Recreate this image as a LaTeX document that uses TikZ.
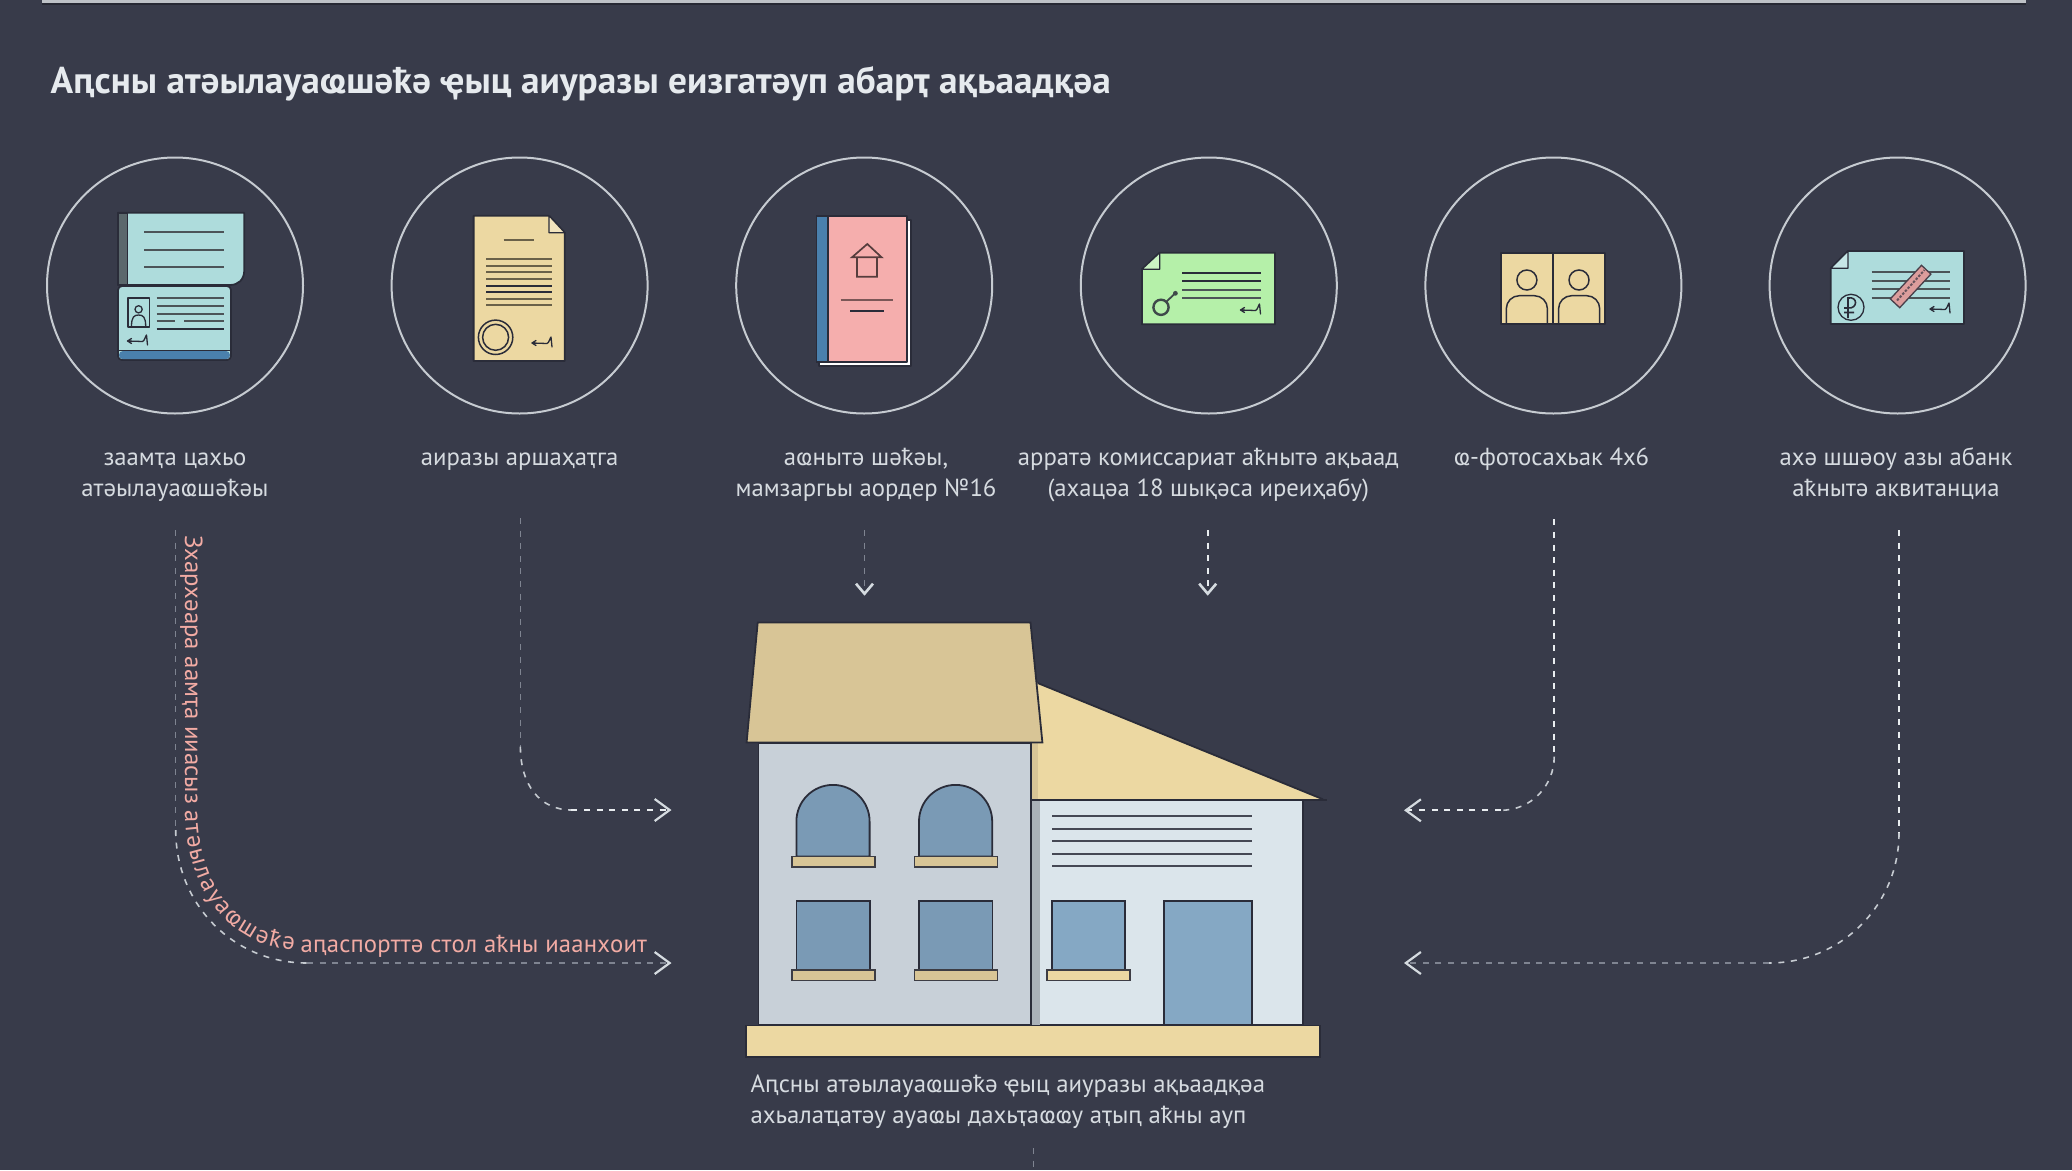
\documentclass[tikz,border=0pt]{standalone}
\usepackage{fontspec}
\setmainfont{PT Sans}
\usetikzlibrary{arrows.meta,decorations.text}
\definecolor{bgc}{HTML}{383B4A}
\definecolor{ink}{HTML}{2A2C39}
\definecolor{lineink}{HTML}{4C5458}
\definecolor{txt}{HTML}{D6DBE0}
\definecolor{titlec}{HTML}{E6EAEE}
\definecolor{pinkt}{HTML}{F2ABA4}
\definecolor{aqua}{HTML}{AEDCDC}
\definecolor{sand}{HTML}{ECD8A2}
\definecolor{sandd}{HTML}{D8C596}
\definecolor{rose}{HTML}{F5AEAD}
\definecolor{mint}{HTML}{B5F0A9}
\definecolor{steel}{HTML}{4A80AD}
\definecolor{wallL}{HTML}{C8D0D8}
\definecolor{wallR}{HTML}{DBE5EB}
\definecolor{glassL}{HTML}{7A9AB5}
\definecolor{glassR}{HTML}{85A8C4}
\definecolor{dimd}{HTML}{7F8491}
\definecolor{midd}{HTML}{C6CBD1}
\definecolor{brightd}{HTML}{E9EDF0}
\definecolor{headc}{HTML}{D5DBE0}
\definecolor{barc}{HTML}{BEC2C7}
\newcommand{\lh}{\rule{0pt}{22pt}}
\tikzset{
  ring/.style={circle,draw=midd,line width=2pt,minimum size=256pt,inner sep=0pt},
  lab/.style={font=\fontsize{24.7}{31}\selectfont,text=txt,align=center,anchor=north,inner sep=0pt},
  ico/.style={draw=ink,line width=1.8pt,line join=round},
  rule/.style={draw=lineink,line width=2pt},
  rulek/.style={draw=ink,line width=1.9pt},
  thin ink/.style={draw=ink,line width=1.3pt,line cap=round,line join=round},
  dim/.style={draw=dimd,line width=1.3pt,dash pattern=on 6pt off 6.6pt},
  mid/.style={draw=midd,line width=1.6pt,dash pattern=on 6pt off 6.6pt},
  bright/.style={draw=brightd,line width=1.7pt,dash pattern=on 6pt off 6.6pt},
  tip/.style={-{Straight Barb[length=15pt,width=22pt,line width=2.2pt,color=headc]}},
  tipd/.style={-{Straight Barb[length=10pt,width=17pt,line width=2.6pt,color=headc]}},
  house/.style={draw=ink,line width=1.8pt,line join=miter},
  sill/.style={draw=ink!90!sand,line width=1.7pt,fill=sandd},
}
\newcommand{\sigmark}[2]{%
  \draw[thin ink,shift={(#1,#2)}] (0,0) -- (15,0.5) .. controls (17,0) and (18,-5) .. (19,-6) (19,-6) -- (20,4) (0,0) -- (4,-2.5) (0,0) -- (4,2.5);}
\begin{document}
\begin{tikzpicture}[x=1pt,y=-1pt]
\useasboundingbox (0,0) rectangle (2072,1170);
\fill[bgc] (0,0) rectangle (2072,1170);
\fill[black!30!bgc] (42,3) rectangle (2026,5);
\fill[barc] (42,0) rectangle (2026,3);

% title
\node[anchor=base west,inner sep=0pt,font=\fontsize{37.3}{40}\selectfont\bfseries,text=titlec] (title) at (50.5,93) {Аԥсны атәылауаҩшәҟә ҿыц аиуразы еизгатәуп абарҭ ақьаадқәа};

% rings
\node[ring] (c1) at (175,285.5) {};
\node[ring] (c2) at (519.6,285.5) {};
\node[ring] (c3) at (864.2,285.5) {};
\node[ring] (c4) at (1208.8,285.5) {};
\node[ring] (c5) at (1553.4,285.5) {};
\node[ring] (c6) at (1897.6,285.5) {};

% labels
\node[lab] (l1) at (175,443) {\lh заамҭа цахьо\\атәылауаҩшәҟәы};
\node[lab] (l2) at (519.6,443) {\lh аиразы аршаҳаҭга};
\node[lab] (l3) at (866,443) {\lh аҩнытә шәҟәы,\\мамзаргьы аордер №16};
\node[lab] (l4) at (1208.3,443) {\lh арратә комиссариат аҟнытә ақьаад\\(ахацәа 18 шықәса иреиҳабу)};
\node[lab] (l5) at (1551.5,443) {\lh ҩ-фотосахьак 4х6};
\node[lab] (l6) at (1896,443) {\lh ахә шшәоу азы абанк\\аҟнытә аквитанциа};

% icon 1: passport
\filldraw[ico,fill=aqua] (118,212.7) -- (244.3,212.7) -- (244.3,270) .. controls (244.3,280) and (238,285) .. (230,285) -- (118,285) -- cycle;
\filldraw[ico,fill=lineink!85!aqua] (118,212.7) rectangle (127.4,285);
\draw[rule] (144,231.7) -- (224,231.7) (144,249.7) -- (224,249.7) (144,267.3) -- (224,267.3);
\filldraw[ico,fill=aqua,rounded corners=4pt] (118,286) -- (231,286) -- (231,360) -- (118,360) -- cycle;
\fill[steel,rounded corners=4pt] (119,351) -- (230,351) -- (230,359.2) -- (119,359.2) -- cycle;
\draw[ink,line width=1.2pt] (118.5,350.7) -- (230.5,350.7);
\draw[thin ink,line width=1.8pt] (127.8,298) rectangle (149.4,327.3);
\draw[thin ink] (138.6,309.3) circle (3.6);
\draw[thin ink] (131.5,326.5) .. controls (131.5,317) and (134,315) .. (138.6,315) .. controls (143.2,315) and (145.7,317) .. (145.7,326.5);
\draw[rule] (156.5,298.3) -- (224,298.3) (156.5,306.3) -- (224,306.3) (156.5,313.7) -- (224,313.7) (156.5,321.3) -- (175,321.3) (184,321.3) -- (224,321.3);
\draw[rulek,line width=1.8pt] (156.5,329.3) -- (224,329.3);
\sigmark{127.5}{341}

% icon 2: certificate
\filldraw[ico,fill=sand] (473.6,215.7) -- (549,215.7) -- (564.8,232.7) -- (564.8,361) -- (473.6,361) -- cycle;
\filldraw[ico,line width=1.2pt,fill=sand!70!white] (549,215.7) -- (564.8,232.7) -- (549,232.7) -- cycle;
\draw[draw=black!55!sand,line width=1.8pt] (503.5,240) -- (533.7,240);
\foreach \yy in {259,266,272.3,279,298.7,305.3} \draw[draw=black!55!sand,line width=2.2pt] (486,\yy) -- (551.6,\yy);
\foreach \yy in {285.7,292} \draw[rulek] (486,\yy) -- (551.6,\yy);
\draw[ink,line width=1.5pt] (495.6,337.3) circle (17.2);
\draw[ink,line width=1.5pt] (495.6,337.3) circle (13);
\sigmark{532}{343}

% icon 3: house book
\filldraw[ico,fill=white] (819,220) -- (911,220) -- (911,366) -- (819,366) -- cycle;
\filldraw[ico,fill=rose] (816.4,215.7) rectangle (906.6,361.7);
\filldraw[ico,fill=steel] (816.4,215.7) rectangle (827.6,361.7);
\draw[thin ink,draw=black!65!rose,line width=1.7pt,line join=miter] (852,257.3) -- (867.3,244) -- (881.6,257.3) -- cycle (857,257.3) rectangle (877,276.7);
\draw[draw=black!50!rose,line width=2pt] (840.5,300.3) -- (893,300.3);
\draw[rulek] (850,310.7) -- (884,310.7);

% icon 4: military paper
\filldraw[ico,fill=mint] (1159.7,252.7) -- (1274.9,252.7) -- (1274.9,324.3) -- (1141.9,324.3) -- (1141.9,269.3) -- cycle;
\filldraw[ico,line width=1.2pt,fill=mint!70!white] (1159.7,252.7) -- (1159.7,269.3) -- (1141.9,269.3) -- cycle;
\draw[rulek] (1182,273) -- (1261,273) (1182,281.3) -- (1261,281.3);
\draw[rule] (1182,290) -- (1261,290) (1182,298) -- (1261,298);
\sigmark{1240.5}{310}
\draw[ink!85!mint,line width=2.4pt] (1161,307.3) circle (7.6);
\draw[ink!85!mint,line width=1.8pt] (1166.5,301.5) -- (1174,294.5);
\fill[ink!85!mint] (1175.4,293.3) circle (2.4);

% icon 5: photos
\filldraw[ico,fill=sand] (1500.7,252.7) rectangle (1552.6,324);
\filldraw[ico,fill=sand] (1552.6,252.7) rectangle (1604.9,324);
\draw[ink,line width=1.5pt] (1526.9,280) circle (10) (1579,280) circle (10);
\draw[ink,line width=1.5pt,rounded corners=13pt] (1506.3,324) -- (1506.3,295.7) -- (1547.4,295.7) -- (1547.4,324);
\draw[ink,line width=1.5pt,rounded corners=13pt] (1558.6,324) -- (1558.6,295.7) -- (1599.7,295.7) -- (1599.7,324);

% icon 6: receipt
\filldraw[ico,fill=aqua] (1847.9,251) -- (1964,251) -- (1964,324) -- (1830.8,324) -- (1830.8,268.3) -- cycle;
\filldraw[ico,line width=1.2pt,fill=aqua!70!white] (1847.9,251) -- (1847.9,268.3) -- (1830.8,268.3) -- cycle;
\draw[rule] (1871.5,272) -- (1950,272) (1871.5,280.7) -- (1950,280.7) (1871.5,289.3) -- (1950,289.3) (1871.5,298) -- (1950,298);
\filldraw[draw=ink!85!rose,line width=1.3pt,fill=rose!90!black] (1930.9,274.1) -- (1921.5,265.3) -- (1890.3,298.9) -- (1899.7,307.7) -- cycle;
\draw[ink!70!rose,line width=2pt,dash pattern=on 2.5pt off 1.5pt] (1897,300.5) -- (1924.5,270);
\sigmark{1930}{309}
\draw[ink,line width=1.3pt] (1851,307.3) circle (13);
\draw[ink,line width=1.6pt] (1848,318) -- (1848,298) .. controls (1858,296) and (1858,309) .. (1848,308) (1844,308) -- (1848,308) (1844,312.5) -- (1854,312.5);

% building
\filldraw[house,fill=wallR] (1031,800) rectangle (1302.6,1024.7);
\fill[wallL!85!black] (1031,800) rectangle (1040.4,1024.7);
\foreach \yy in {816.4,828.7,841,853.8,866.2} \draw[draw=ink!85!wallR,line width=2pt] (1052,\yy) -- (1252,\yy);
\fill[sand] (1031,680) -- (1037.6,683) -- (1323,799.3) -- (1031,799.3) -- cycle;
\fill[sandd] (1031,743) rectangle (1037.6,799.3);
\draw[house] (1037.6,683) -- (1323,799.3);
\draw[house] (1031,799.6) -- (1327,799.6);
\filldraw[house,fill=wallL] (758.5,743) rectangle (1031.3,1024.7);
\filldraw[house,fill=sandd] (757.7,622.5) -- (1030.5,622.5) -- (1042.4,742.5) -- (746.6,742.5) -- cycle;
\foreach \xx in {796.4,919} {
  \filldraw[house,fill=glassL] (\xx,856.4) -- (\xx,821.5) arc[start angle=180,end angle=360,radius=36.6] -- (\xx+73.2,856.4) -- cycle;
  \filldraw[sill] (\xx-4.4,856.4) rectangle (\xx+78.6,867.3);
  \filldraw[house,fill=glassL] (\xx,901) rectangle (\xx+73.4,970.2);
  \filldraw[sill] (\xx-4.4,970.2) rectangle (\xx+78.6,980.4);
}
\filldraw[house,fill=glassR] (1051.9,901) rectangle (1124.6,970.2);
\filldraw[sill,fill=sand] (1047,970.2) rectangle (1129.8,980.4);
\filldraw[house,fill=glassR] (1163.8,901) rectangle (1252,1024.7);
\filldraw[house,fill=sand] (745.8,1025.5) rectangle (1320,1056.7);
\node[anchor=north west,inner sep=0pt,align=left,font=\fontsize{24.8}{31}\selectfont,text=txt] (cap) at (750.3,1070) {\lh Аԥсны атәылауаҩшәҟә ҿыц аиуразы ақьаадқәа\\ахьалаҵатәу ауаҩы дахьҭаҩҩу аҭыԥ аҟны ауп};

% connector points
\coordinate (a1) at (175.7,530); \coordinate (b1) at (175.7,830); \coordinate (e1) at (307,963); \coordinate (d1) at (671.5,963);
\coordinate (a2) at (520.4,518); \coordinate (b2) at (520.4,746.7); \coordinate (e2) at (571.4,810); \coordinate (d2) at (671.5,810);
\coordinate (a3) at (864.5,530); \coordinate (d3) at (864.5,595.7);
\coordinate (a4) at (1207.7,530); \coordinate (d4) at (1207.7,595.7);
\coordinate (a5) at (1554.2,519.3); \coordinate (b5) at (1554.2,756.7); \coordinate (e5) at (1500.5,810.3); \coordinate (d5) at (1404,810.3);
\coordinate (a6) at (1899,530); \coordinate (b6) at (1899,833); \coordinate (e6) at (1769,963); \coordinate (d6) at (1404,963);
\coordinate (a7) at (1033.4,1148); \coordinate (d7) at (1033.4,1170);

\draw[dim] (a1) -- (b1);
\draw[mid] (b1) .. controls (175.7,904) and (233,963) .. (e1);
\draw[dim,tip] (e1) -- (d1);
\draw[dim] (a2) -- (b2);
\draw[mid] (b2) .. controls (520.4,785) and (540,810) .. (e2);
\draw[bright,tip] (e2) -- (d2);
\draw[dim,tipd] (a3) -- (d3);
\draw[bright,tipd] (a4) -- (d4);
\draw[bright] (a5) -- (b5);
\draw[mid] (b5) .. controls (1554.2,785) and (1532,810.3) .. (e5);
\draw[bright,tip] (e5) -- (d5);
\draw[bright] (a6) -- (b6);
\draw[mid] (b6) .. controls (1899,905) and (1841,963) .. (e6);
\draw[dim,tip] (e6) -- (d6);
\draw[dim] (a7) -- (d7);

% curved note, in three stretches
\coordinate (n1) at (185,535); \coordinate (n2) at (185,804); \coordinate (n3) at (185,810); \coordinate (n4) at (294,950); \coordinate (n5) at (300.7,952.7); \coordinate (n6) at (647,952.7);
\path[decorate,decoration={text along path,text align={fit to path},
  text={|\fontsize{24.7}{26}\selectfont\color{pinkt}|Зхархәара аамҭа ииасыз}}] (n1) -- (n2);
\path[decorate,decoration={text along path,text align={fit to path},
  text={|\fontsize{24.7}{26}\selectfont\color{pinkt}|атәылауаҩшәҟә}}] (n3) .. controls (185,885) and (225,945) .. (n4);
\path[decorate,decoration={text along path,text align={fit to path},
  text={|\fontsize{24.7}{26}\selectfont\color{pinkt}|аԥаспорттә стол аҟны иаанхоит}}] (n5) -- (n6);
\end{tikzpicture}
\end{document}
